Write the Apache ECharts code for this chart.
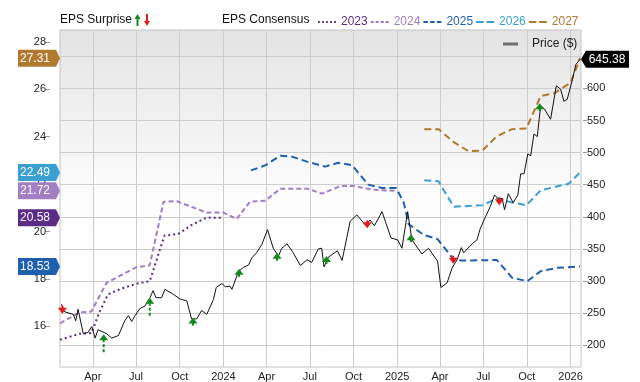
<!DOCTYPE html>
<html lang="en">
<head>
<meta charset="UTF-8">
<title>EPS Surprise / EPS Consensus</title>
<script src="https://cdn.jsdelivr.net/npm/echarts@6/dist/echarts.min.js"></script>
<style>html,body{margin:0;padding:0;background:#fff;}</style>
</head>
<body>
<div id="main" style="width:640px;height:382px;"></div>
<script>
// x axis: quarter ticks
var tickDates = ['2023-04-01','2023-07-01','2023-10-01','2024-01-01','2024-04-01','2024-07-01','2024-10-01',
                 '2025-01-01','2025-04-01','2025-07-01','2025-10-01','2026-01-01'];
var tickLabels = ['Apr','Jul','Oct','2024','Apr','Jul','Oct','2025','Apr','Jul','Oct','2026'];
var epsTicks = [16, 18, 20, 22, 24, 26, 28];
var priceTicks = [200, 250, 300, 350, 400, 450, 500, 550, 600, 650];
var priceLabels = [200, 250, 300, 350, 400, 450, 500, 550, 600];

// EPS consensus per fiscal year
var eps2023 = [['2023-01-22',15.44],['2023-03-04',15.69],['2023-03-29',15.72],['2023-04-15',16.6],['2023-05-03',17.35],
  ['2023-06-01',17.6],['2023-07-02',17.8],['2023-07-30',17.91],['2023-08-30',19.83],['2023-09-28',19.9],
  ['2023-10-28',20.3],['2023-11-27',20.59],['2024-01-01',20.58]];
var eps2024 = [['2023-01-22',16.13],['2023-03-04',16.59],['2023-03-29',16.63],['2023-04-30',17.84],['2023-07-02',18.5],
  ['2023-07-30',18.58],['2023-08-28',21.26],['2023-09-25',21.28],['2023-11-27',20.8],['2024-01-01',20.8],
  ['2024-01-29',20.53],['2024-02-26',21.26],['2024-03-29',21.3],['2024-04-30',21.81],['2024-06-25',21.81],
  ['2024-07-27',21.6],['2024-09-03',21.92],['2024-10-01',21.92],['2024-11-12',21.76],['2024-12-28',21.72]];
var eps2025 = [['2024-02-28',22.58],['2024-03-29',22.79],['2024-04-30',23.2],['2024-05-24',23.16],['2024-06-25',22.95],
  ['2024-08-02',22.74],['2024-08-30',22.9],['2024-09-28',22.8],['2024-11-01',21.98],['2024-11-30',21.84],
  ['2024-12-30',21.84],['2025-01-15',21.21],['2025-01-25',20.31],['2025-02-26',19.86],['2025-03-27',19.68],
  ['2025-04-30',18.82],['2025-05-14',18.78],['2025-07-30',18.8],['2025-08-31',18.05],['2025-10-02',17.91],
  ['2025-10-30',18.33],['2025-12-04',18.47],['2026-01-21',18.53]];
var eps2026 = [['2025-02-27',22.16],['2025-03-29',22.12],['2025-04-30',21.05],['2025-06-29',21.11],['2025-07-30',21.39],
  ['2025-08-31',21.23],['2025-09-30',21.11],['2025-10-30',21.74],['2025-12-28',22.02],['2026-01-21',22.49]];
var eps2027 = [['2025-02-27',24.32],['2025-03-29',24.32],['2025-04-30',23.77],['2025-05-31',23.39],['2025-06-29',23.41],
  ['2025-07-30',24.02],['2025-08-31',24.32],['2025-09-30',24.35],['2025-10-30',25.71],['2025-11-27',25.83],
  ['2026-01-01',26.27],['2026-01-21',27.31]];

// share price
var price = [['2023-01-25',264],['2023-02-01',252],['2023-02-19',248],['2023-02-24',238],['2023-03-01',256],
  ['2023-03-12',218],['2023-03-22',220],['2023-03-30',229],['2023-04-06',211],['2023-04-12',224],['2023-04-30',218],
  ['2023-05-11',211],['2023-05-25',215],['2023-06-08',239],['2023-06-15',246],['2023-06-22',237],['2023-06-29',246],
  ['2023-07-09',257],['2023-07-20',261],['2023-07-30',273],['2023-08-06',285],['2023-08-12',274],['2023-08-24',274],
  ['2023-08-31',287],['2023-09-18',279],['2023-10-02',272],['2023-10-16',269],['2023-10-26',241],['2023-11-06',241],
  ['2023-11-16',254],['2023-11-27',248],['2023-12-11',271],['2023-12-17',290],['2023-12-29',296],['2024-01-05',291],
  ['2024-01-15',292],['2024-01-19',287],['2024-02-02',315],['2024-02-12',321],['2024-02-23',325],['2024-03-01',336],
  ['2024-03-11',344],['2024-03-22',357],['2024-04-03',380],['2024-04-15',351],['2024-04-26',339],['2024-05-03',351],
  ['2024-05-14',358],['2024-05-27',344],['2024-06-11',324],['2024-06-25',333],['2024-07-05',329],['2024-07-19',350],
  ['2024-07-26',351],['2024-07-31',322],['2024-08-09',337],['2024-08-28',347],['2024-09-07',332],['2024-09-24',393],
  ['2024-10-08',403],['2024-10-26',387],['2024-11-05',395],['2024-11-14',386],['2024-11-30',408],['2024-12-19',367],
  ['2025-01-02',364],['2025-01-11',351],['2025-01-23',408],['2025-02-01',364],['2025-02-22',342],['2025-03-08',351],
  ['2025-03-22',336],['2025-03-27',331],['2025-04-03',290],['2025-04-16',297],['2025-04-27',321],['2025-05-07',333],
  ['2025-05-16',352],['2025-05-21',344],['2025-06-08',358],['2025-06-18',364],['2025-06-25',382],['2025-07-06',400],
  ['2025-07-16',416],['2025-07-25',434],['2025-08-03',427],['2025-08-10',429],['2025-08-15',411],['2025-08-23',436],
  ['2025-09-02',422],['2025-09-12',434],['2025-09-18',467],['2025-09-25',467],['2025-10-03',498],['2025-10-09',495],
  ['2025-10-16',529],['2025-10-23',525],['2025-10-30',573],['2025-11-07',568],['2025-11-20',552],['2025-12-02',604],
  ['2025-12-11',599],['2025-12-18',580],['2025-12-25',583],['2026-01-05',614],['2026-01-12',637],['2026-01-21',645.38]];

// EPS surprises: report date, price at report, surprise %
var surpriseDates = ['2023-01-27','2023-04-24','2023-07-30','2023-10-29','2024-02-03','2024-04-23',
                     '2024-08-05','2024-10-30','2025-01-30','2025-04-29','2025-08-04','2025-10-28'];
var surprisePrice = [249, 217, 274, 243, 319, 344, 339, 382, 373, 327, 418, 577];
var surprisePct = [-4, 22, 22, 5, 5, 5, 5, -4, 5, -4, -4, 4];

var colors = {'2023':'#5b2c86','2024':'#a27fc4','2025':'#1f5faf','2026':'#3aa0d2','2027':'#b07a2e'};
var font = "'Liberation Sans', Arial, sans-serif";
var green = '#17891c', red = '#e5191c';

// legend line icons (dotted / dashed)
var legendIcons = {
    '2023': 'path://M0,0h2v2h-2zM4.5,0h2v2h-2zM9,0h2v2h-2zM13.5,0h2v2h-2zM18,0h2v2h-2z',
    '2024': 'path://M0,0h3.5v2h-3.5zM5.5,0h3.5v2h-3.5zM11,0h3.5v2h-3.5zM16.5,0h3.5v2h-3.5z',
    '2025': 'path://M0,0h5v2h-5zM7.5,0h5v2h-5zM15,0h5v2h-5z',
    '2026': 'path://M0,0h8.5v2h-8.5zM11.5,0h8.5v2h-8.5z',
    '2027': 'path://M0,0h8.5v2h-8.5zM11.5,0h8.5v2h-8.5z'
};

var xMin = Date.parse('2023-01-22');
var xMax = Date.parse('2026-01-23');
var tickValues = tickDates.map(function (d) { return Date.parse(d); });

function toXY(arr) {
    return arr.map(function (d) { return [Date.parse(d[0]), d[1]]; });
}

function leftTag(color, v) {
    return {
        symbol: 'path://M0,0L38,0L42,8.5L38,17L0,17Z',
        symbolSize: [42, 17],
        symbolOffset: [-21, 0],
        silent: true,
        itemStyle: {color: color},
        label: {show: true, position: 'inside', offset: [-4, 0], color: '#fff',
                fontSize: 12, fontFamily: font, formatter: v.toFixed(2)},
        data: [{coord: [xMin, v]}]
    };
}

function epsSeries(name, arr, dash) {
    var last = arr[arr.length - 1][1];
    return {
        name: name, type: 'line', yAxisIndex: 0, symbol: 'none', z: 2,
        lineStyle: {color: colors[name], width: 2, type: dash},
        itemStyle: {color: colors[name]},
        data: toXY(arr),
        markPoint: leftTag(colors[name], last)
    };
}

var surpriseData = surpriseDates.map(function (d, i) {
    return [Date.parse(d), surprisePrice[i], surprisePct[i]];
});

function renderArrow(params, api) {
    var p = api.coord([api.value(0), api.value(1)]);
    var pct = api.value(2);
    var dir = pct > 0 ? 1 : -1;
    var color = pct > 0 ? green : red;
    var stem = 2.5 + Math.abs(pct) * 0.5;
    var x = p[0], y = p[1];
    return {
        type: 'group',
        children: [
            {type: 'line', shape: {x1: x, y1: y + dir * 5, x2: x, y2: y + dir * (5 + stem)},
             style: {stroke: color, lineWidth: 2, lineDash: [3, 2]}},
            {type: 'polygon', shape: {points: [[x, y], [x - 4.5, y + dir * 6], [x + 4.5, y + dir * 6]]},
             style: {fill: color}}
        ]
    };
}

var lastPrice = price[price.length - 1][1];

var option = {
    animation: false,
    textStyle: {fontFamily: font},
    grid: {
        left: 60, right: 59, top: 30, bottom: 12, show: true,
        borderColor: '#c4c4c4', borderWidth: 1,
        backgroundColor: new echarts.graphic.LinearGradient(0, 0, 0, 1, [
            {offset: 0, color: '#e3e3e3'}, {offset: 0.5, color: '#fdfdfd'}, {offset: 1, color: '#ffffff'}
        ])
    },
    graphic: [
        {type: 'text', left: 60, top: 14, style: {text: 'EPS Surprise', fontSize: 12, fontFamily: font, fill: '#111'}},
        {type: 'polygon', shape: {points: [[137.5, 14], [134.5, 19], [140.5, 19]]}, style: {fill: green}},
        {type: 'rect', shape: {x: 136.5, y: 19, width: 2, height: 7}, style: {fill: green}},
        {type: 'polygon', shape: {points: [[147, 26], [144, 21], [150, 21]]}, style: {fill: red}},
        {type: 'rect', shape: {x: 146, y: 14, width: 2, height: 7}, style: {fill: red}},
        {type: 'text', left: 222, top: 14, style: {text: 'EPS Consensus', fontSize: 12, fontFamily: font, fill: '#111'}}
    ],
    legend: [
        {
            left: 318, top: 16, padding: 0, itemWidth: 18, itemHeight: 2, itemGap: 3, selectedMode: false,
            textStyle: {fontSize: 12, fontFamily: font},
            data: ['2023', '2024', '2025', '2026', '2027'].map(function (n) {
                return {name: n, icon: legendIcons[n], itemStyle: {color: colors[n]}, textStyle: {color: colors[n]}};
            })
        },
        {
            left: 503, top: 38, padding: 0, itemWidth: 15, itemHeight: 3, selectedMode: false,
            textStyle: {fontSize: 12, fontFamily: font, color: '#222', padding: [0, 0, 0, 9]},
            data: [{name: 'Price ($)', icon: 'rect', itemStyle: {color: '#6e6e6e'}}]
        }
    ],
    xAxis: {
        type: 'value', min: xMin, max: xMax,
        axisLine: {show: false},
        axisTick: {show: false, customValues: tickValues},
        axisLabel: {
            customValues: tickValues,
            color: '#222', fontSize: 11, fontFamily: font, margin: 4,
            formatter: function (v) { return tickLabels[tickValues.indexOf(v)]; }
        },
        splitLine: {show: true, lineStyle: {color: '#cdcdcd', width: 1}}
    },
    yAxis: [
        {
            type: 'value', position: 'left', min: 14.29, max: 28.5, offset: 10,
            axisLine: {show: false},
            axisTick: {show: true, length: 5, customValues: epsTicks, lineStyle: {color: '#999'}},
            axisLabel: {customValues: epsTicks, color: '#222', fontSize: 11, fontFamily: font, margin: 4},
            splitLine: {show: false}
        },
        {
            type: 'value', position: 'right', min: 166, max: 691, offset: 2,
            axisLine: {show: false},
            axisTick: {show: true, length: 4, customValues: priceTicks, lineStyle: {color: '#999'}},
            axisLabel: {customValues: priceLabels, color: '#222', fontSize: 11, fontFamily: font, margin: 4},
            splitLine: {show: true, lineStyle: {color: '#cdcdcd', width: 1}}
        }
    ],
    series: [
        epsSeries('2023', eps2023, [2, 3]),
        epsSeries('2024', eps2024, [5, 3]),
        epsSeries('2025', eps2025, [7, 4]),
        epsSeries('2026', eps2026, [7, 4]),
        epsSeries('2027', eps2027, [7, 4]),
        {
            name: 'Price ($)', type: 'line', yAxisIndex: 1, symbol: 'none', z: 3,
            lineStyle: {color: '#111', width: 1}, itemStyle: {color: '#777'},
            data: toXY(price),
            markPoint: {
                symbol: 'path://M5,0L48,0L48,17L5,17L0,8.5Z',
                symbolSize: [48, 17], symbolOffset: [24, 0], silent: true,
                itemStyle: {color: '#000'},
                label: {show: true, position: 'inside', offset: [2, 0], color: '#fff', fontSize: 12,
                        fontFamily: font, formatter: lastPrice.toFixed(2)},
                data: [{coord: [xMax, lastPrice]}]
            }
        },
        {
            name: 'EPS Surprise', type: 'custom', yAxisIndex: 1, z: 4,
            renderItem: renderArrow, data: surpriseData
        }
    ]
};

var myChart = echarts.init(document.getElementById('main'));
myChart.setOption(option);
</script>
</body>
</html>
